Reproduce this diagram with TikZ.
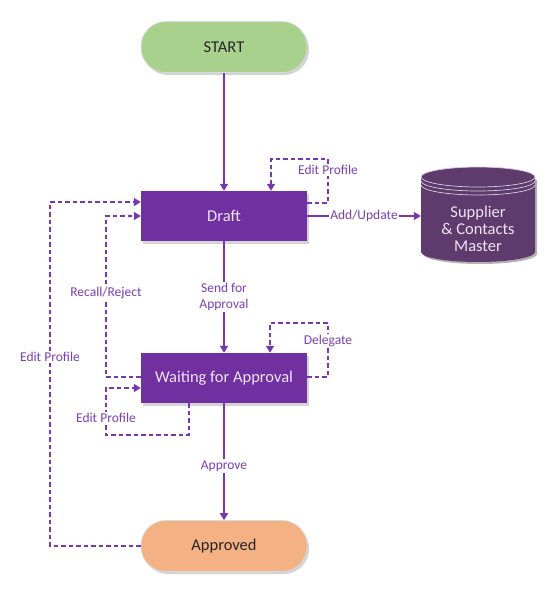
\documentclass[tikz,border=0pt]{standalone}
\usepackage{fontspec}
\setmainfont{Carlito}
\usetikzlibrary{arrows.meta,shadows,calc}
\definecolor{boxpurple}{HTML}{7030A0}
\definecolor{linepurple}{HTML}{7A35B0}
\definecolor{lblpurple}{HTML}{7B3FB5}
\definecolor{startgreen}{HTML}{A9D18E}
\definecolor{apprange}{HTML}{F4B183}
\definecolor{dbpurple}{HTML}{5E3B6C}
\definecolor{dbline}{HTML}{D9CCE0}
\definecolor{boxtext}{HTML}{EEE4F4}
\tikzset{
  shad/.style={drop shadow={opacity=0.35,shadow xshift=2pt,shadow yshift=-2.5pt}},
  pill/.style={draw=white!70!gray,line width=0.6pt,rounded corners=25pt,minimum width=166pt,minimum height=51pt,shad,text=black!85,font=\fontsize{16.5}{19}\selectfont},
  stepbox/.style={fill=boxpurple,draw=none,minimum width=166pt,minimum height=50pt,shad,text=boxtext,font=\fontsize{16.5}{19}\selectfont},
  sl/.style={draw=linepurple,line width=1.4pt,-{Triangle[width=8pt,length=7pt]}},
  dl/.style={sl,dash pattern=on 4.5pt off 3pt},
  lbl/.style={fill=white,text=lblpurple,inner sep=1.5pt,align=center,font=\fontsize{13.5}{16}\selectfont}
}
\begin{document}
\begin{tikzpicture}[x=1pt,y=-1pt]
\useasboundingbox (0,0) rectangle (547,599);
% nodes
\node[pill,fill=startgreen] (start) at (224,47) {START};
\node[stepbox] (draft) at (224,216) {Draft};
\node[stepbox] (wait) at (224,378) {Waiting for Approval};
\node[pill,fill=apprange] (appr) at (224,546) {Approved};
% database cylinder
\fill[black,opacity=0.3] (423,180) -- (423,254) arc[start angle=180,end angle=360,x radius=57pt,y radius=10pt] -- (537,180) -- cycle;
\fill[dbpurple] (421,177) -- (421,252) arc[start angle=180,end angle=360,x radius=57pt,y radius=10pt] -- (535,177) arc[start angle=0,end angle=180,x radius=57pt,y radius=10pt] -- cycle;
\draw[dbline,line width=0.7pt] (478,177) ellipse[x radius=57pt,y radius=10pt];
\draw[dbline,line width=0.7pt] (421,181) arc[start angle=180,end angle=360,x radius=57pt,y radius=10pt];
\draw[dbline,line width=0.7pt] (421,185) arc[start angle=180,end angle=360,x radius=57pt,y radius=10pt];
\node[text=boxtext,align=center,font=\fontsize{16.5}{17}\selectfont,minimum width=114pt,minimum height=80pt,inner sep=0pt] (db) at (478,229) {Supplier\\\& Contacts\\Master};
% coordinates
\coordinate (c1) at (328,159);
\coordinate (c2) at (328,323);
\coordinate (c3) at (106,216);
\coordinate (c4) at (106,435);
\coordinate (c5) at (50,202);
% connectors
\draw[sl] (start.south) -- (draft.north);
\draw[dl] ([yshift=13pt]draft.east) -| (c1) -| ([xshift=47pt]draft.north);
\draw[sl] (draft.east) -- (db.west |- draft.east);
\draw[sl] (draft.south) -- (wait.north);
\draw[dl] ([yshift=1pt]wait.east) -| (c2) -| ([xshift=46pt]wait.north);
\draw[dl] ([yshift=1pt]wait.west) -| (c3) -- (draft.west);
\draw[dl] ([xshift=-35pt]wait.south) |- (c4) |- ([yshift=-10pt]wait.west);
\draw[sl] (wait.south) -- (appr.north);
\draw[dl] (appr.west) -| (c5) -- ([yshift=14pt]draft.west);
% labels
\node[lbl] (l1) at (328,170) {Edit Profile};
\node[lbl] (l2) at (364,216) {Add/Update};
\node[lbl] (l3) at (224,297) {Send for\\Approval};
\node[lbl] (l4) at (328,341) {Delegate};
\node[lbl] (l5) at (106,293) {Recall/Reject};
\node[lbl] (l6) at (106,418) {Edit Profile};
\node[lbl] (l7) at (224,466) {Approve};
\node[lbl] (l8) at (50,357) {Edit Profile};
\end{tikzpicture}
\end{document}
